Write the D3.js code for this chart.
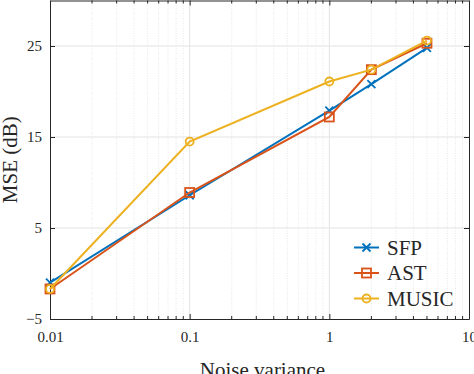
<!DOCTYPE html>
<html>
<head>
<meta charset="utf-8">
<script src="https://cdn.jsdelivr.net/npm/d3@7"></script>
<style>
  body { margin: 0; background: #fff; }
  text { font-family: "Liberation Serif", "DejaVu Serif", serif; fill: #262626; }
</style>
</head>
<body>
<svg id="chart" width="474" height="374"></svg>
<script>
var noise = [0.01, 0.1, 1, 2, 5];
var sfp = [-1.0, 8.6, 17.9, 20.8, 24.8];
var ast = [-1.7, 8.9, 17.2, 22.4, 25.3];
var music = [-1.7, 14.5, 21.1, 22.4, 25.6];
var seriesNames = ['SFP', 'AST', 'MUSIC'];
var xTicks = [0.01, 0.1, 1, 10];
var yTicks = [-5, 5, 15, 25];

var colors = ['#0072BD', '#D95319', '#EDB120'],
    markers = ['x', 'square', 'circle'];
var series = [sfp, ast, music].map(function(vals, i) {
    return {
        name: seriesNames[i],
        color: colors[i],
        marker: markers[i],
        values: vals.map(function(v, j) { return {x: noise[j], y: v}; })
    };
});

var margins = {top: 0.5, right: 5, bottom: 55, left: 50},
    width = 474 - margins.left - margins.right,
    height = 374 - margins.top - margins.bottom;

var svg = d3.select('#chart');
var g = svg.append('g').attr('transform', 'translate(' + margins.left + ',' + margins.top + ')');

var x = d3.scaleLog().domain([0.01, 10]).range([0, width]);
var y = d3.scaleLinear().domain([-5, 30]).range([height, 0]);

// minor ticks 2..9 per decade
var minor = [];
[0.01, 0.1, 1].forEach(function(d) {
    for (var k = 2; k <= 9; k++) minor.push(d * k);
});

// grid
g.selectAll('.minor-grid').data(minor).enter().append('line')
    .attr('x1', function(d) { return x(d); }).attr('x2', function(d) { return x(d); })
    .attr('y1', 0).attr('y2', height)
    .attr('stroke', '#dcdcdc').attr('stroke-width', 0.7).attr('stroke-dasharray', '1,1.5');
g.selectAll('.major-vgrid').data(xTicks.slice(1, -1)).enter().append('line')
    .attr('x1', function(d) { return x(d); }).attr('x2', function(d) { return x(d); })
    .attr('y1', 0).attr('y2', height)
    .attr('stroke', '#e3e3e3').attr('stroke-width', 1);
g.selectAll('.major-hgrid').data(yTicks.slice(1)).enter().append('line')
    .attr('x1', 0).attr('x2', width)
    .attr('y1', function(d) { return y(d); }).attr('y2', function(d) { return y(d); })
    .attr('stroke', '#e3e3e3').attr('stroke-width', 1);

// axes
var xAxis = d3.axisBottom(x).tickValues(xTicks).tickFormat(d3.format('~g')).tickSizeInner(-5).tickSizeOuter(0).tickPadding(12);
var xAxisTop = d3.axisTop(x).tickValues(xTicks).tickFormat('').tickSizeInner(-5).tickSizeOuter(0);
var yAxis = d3.axisLeft(y).tickValues(yTicks).tickSizeInner(-5).tickSizeOuter(0).tickPadding(8);
var yAxisRight = d3.axisRight(y).tickValues(yTicks).tickFormat('').tickSizeInner(-5).tickSizeOuter(0);

function styleAxis(sel) {
    sel.select('.domain').attr('stroke', '#262626');
    sel.selectAll('.tick line').attr('stroke', '#262626');
    sel.selectAll('.tick text').style('font-size', '15px').attr('fill', '#262626')
        .style('font-family', '"Liberation Serif", serif');
}

g.append('g').attr('class', 'x axis').attr('transform', 'translate(0,' + height + ')').call(xAxis).call(styleAxis);
g.append('g').attr('class', 'x top axis').call(xAxisTop).call(styleAxis);
g.append('g').attr('class', 'y axis').call(yAxis).call(styleAxis);
g.append('g').attr('class', 'y right axis').attr('transform', 'translate(' + width + ',0)').call(yAxisRight).call(styleAxis);

// minor ticks on bottom and top
[height, 0].forEach(function(yy) {
    var dir = yy === 0 ? 1 : -1;
    g.selectAll(null).data(minor).enter().append('line')
        .attr('x1', function(d) { return x(d); }).attr('x2', function(d) { return x(d); })
        .attr('y1', yy).attr('y2', yy + dir * 3)
        .attr('stroke', '#262626').attr('stroke-width', 1);
});

// lines
var line = d3.line().x(function(d) { return x(d.x); }).y(function(d) { return y(d.y); });

function drawMarker(sel, type, color) {
    if (type === 'x') {
        sel.append('path').attr('d', 'M-4,-4L4,4M-4,4L4,-4')
            .attr('stroke', color).attr('stroke-width', 1.8).attr('fill', 'none');
    } else if (type === 'square') {
        sel.append('rect').attr('x', -4.5).attr('y', -4.5).attr('width', 9).attr('height', 9)
            .attr('stroke', color).attr('stroke-width', 1.8).attr('fill', 'none');
    } else {
        sel.append('circle').attr('r', 4)
            .attr('stroke', color).attr('stroke-width', 1.8).attr('fill', 'none');
    }
}

series.forEach(function(s) {
    g.append('path').datum(s.values)
        .attr('d', line).attr('fill', 'none')
        .attr('stroke', s.color).attr('stroke-width', 2);
    g.selectAll(null).data(s.values).enter().append('g')
        .attr('transform', function(d) { return 'translate(' + x(d.x) + ',' + y(d.y) + ')'; })
        .each(function() { drawMarker(d3.select(this), s.marker, s.color); });
});

// axis titles
svg.append('text')
    .attr('x', margins.left + width / 2 + 3).attr('y', 377)
    .attr('text-anchor', 'middle').style('font-size', '21px')
    .text('Noise variance');
svg.append('text')
    .attr('transform', 'translate(17,' + (margins.top + height / 2) + ') rotate(-90)')
    .attr('text-anchor', 'middle').style('font-size', '21px')
    .text('MSE (dB)');

// legend
var legend = g.append('g').attr('transform', 'translate(' + (x(0.01) + 304) + ',247)');
series.forEach(function(s, i) {
    var row = legend.append('g').attr('transform', 'translate(0,' + (i * 25.5) + ')');
    row.append('line').attr('x1', 0).attr('x2', 25).attr('y1', 0).attr('y2', 0)
        .attr('stroke', s.color).attr('stroke-width', 2);
    drawMarker(row.append('g').attr('transform', 'translate(12.5,0)'), s.marker, s.color);
    row.append('text').attr('x', 33).attr('y', 7)
        .style('font-size', '21px').text(s.name);
});
</script>
</body>
</html>
